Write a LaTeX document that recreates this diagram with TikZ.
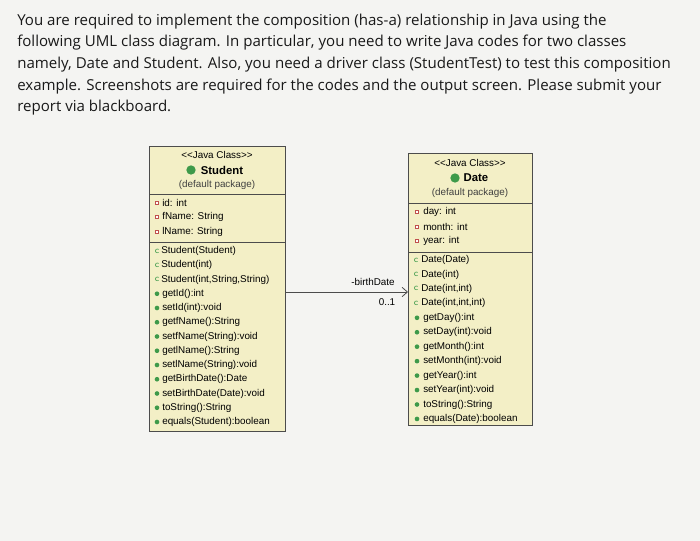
\documentclass[tikz,border=0pt]{standalone}
\usetikzlibrary{arrows.meta}
\usepackage{fontspec}
\setmainfont{Open Sans}
\newfontfamily\umlfont{Liberation Sans}
\definecolor{bg}{HTML}{F4F4F2}
\definecolor{boxfill}{HTML}{F3EFC6}
\definecolor{icgreen}{HTML}{3E9A4A}
\definecolor{icred}{HTML}{C0504D}
\begin{document}
\begin{tikzpicture}[x=0.75pt,y=-0.75pt,
  para/.style={anchor=west,inner sep=0pt,font=\fontsize{11.3}{13}\selectfont,text=black!90},
  umlbox/.style={draw=black!70,fill=boxfill,line width=0.6pt},
  hd/.style={inner sep=0pt,font=\umlfont\fontsize{7.4}{8}\selectfont},
  item/.style={anchor=west,inner sep=0pt,font=\umlfont\fontsize{7.4}{8}\selectfont},
  attr/.style={draw=icred,fill=white,line width=0.4pt,minimum size=2.4pt,inner sep=0pt},
  meth/.style={circle,fill=icgreen,minimum size=3.5pt,inner sep=0pt},
  ctor/.style={font=\umlfont\bfseries\fontsize{7}{8}\selectfont,text=icgreen,inner sep=0pt}]
\useasboundingbox[fill=bg] (0,0) rectangle (700,541);
\node[para] (l1) at (17,22) {You are required to implement the composition (has-a) relationship in Java using the};
\node[para] (l2) at (17,43) {following UML class diagram. In particular, you need to write Java codes for two classes};
\node[para] (l3) at (17,65) {namely, Date and Student. Also, you need a driver class (StudentTest) to test this composition};
\node[para] (l4) at (17,87) {example. Screenshots are required for the codes and the output screen. Please submit your};
\node[para] (l5) at (17,108) {report via blackboard.};
% Student
\draw[umlbox] (149,146) rectangle (285,431);
\draw[black!70,line width=0.6pt] (149,194) -- (285,194) (149,242) -- (285,242);
\node[hd] (s1) at (217,155) {<<Java Class>>};
\node[hd,font=\umlfont\bfseries\fontsize{8.5}{9}\selectfont] (s2) at (222,170) {Student};
\node[meth,minimum size=7pt] (s2i) at (191,170) {};
\node[hd,text=black!75] (s3) at (217,185) {(default package)};
\foreach \t [count=\i] in {id: int,fName: String,lName: String}{
  \node[attr] (sa\i) at (157,188+14.5*\i) {};
  \node[item] (sat\i) at (162,188+14.5*\i) {\t};}
\foreach \t [count=\i] in {Student(Student),Student(int),{Student(int,String,String)}}{
  \node[ctor] (sc\i) at (157,236.75+14.25*\i) {$\mathsf{c}$};
  \node[item] (sct\i) at (161,236.75+14.25*\i) {\t};}
\foreach \t [count=\i] in {getId():int,setId(int):void,getfName():String,setfName(String):void,getlName():String,setlName(String):void,getBirthDate():Date,setBirthDate(Date):void,toString():String,equals(Student):boolean}{
  \node[meth] (sm\i) at (157,279.5+14.25*\i) {};
  \node[item] (smt\i) at (162,279.5+14.25*\i) {\t};}
% Date
\draw[umlbox] (408,153) rectangle (532,425);
\draw[black!70,line width=0.6pt] (408,203) -- (532,203) (408,252) -- (532,252);
\node[hd] (d1) at (470,163) {<<Java Class>>};
\node[hd,font=\umlfont\bfseries\fontsize{8.5}{9}\selectfont] (d2) at (476,178) {Date};
\node[meth,minimum size=7pt] (d2i) at (455,178) {};
\node[hd,text=black!75] (d3) at (470,193) {(default package)};
\foreach \t [count=\i] in {day: int,month: int,year: int}{
  \node[attr] (da\i) at (417,197.5+14.5*\i) {};
  \node[item] (dat\i) at (423,197.5+14.5*\i) {\t};}
\foreach \t [count=\i] in {Date(Date),Date(int),{Date(int,int)},{Date(int,int,int)}}{
  \node[ctor] (dc\i) at (416,245.55+14.45*\i) {$\mathsf{c}$};
  \node[item] (dct\i) at (421,245.55+14.45*\i) {\t};}
\foreach \t [count=\i] in {getDay():int,setDay(int):void,getMonth():int,setMonth(int):void,getYear():int,setYear(int):void,toString():String,equals(Date):boolean}{
  \node[meth] (dm\i) at (417,303.35+14.45*\i) {};
  \node[item] (dmt\i) at (423,303.35+14.45*\i) {\t};}
\coordinate (sa) at (285,292);
\coordinate (da) at (408,292);
\draw[black!70,line width=0.6pt,-{Straight Barb[length=4pt,width=7pt]}] (sa) -- (da);
\node[hd] (role) at (373,282) {-birthDate};
\node[hd] (mult) at (387,302) {0..1};
\end{tikzpicture}
\end{document}
